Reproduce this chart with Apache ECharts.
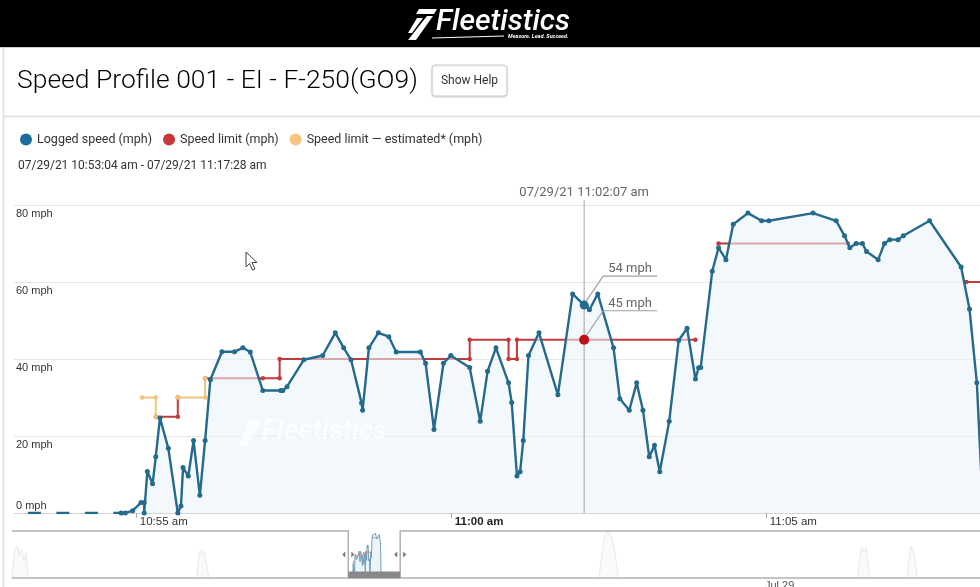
<!DOCTYPE html>
<html><head><meta charset="utf-8">
<script src="https://cdn.jsdelivr.net/npm/echarts@6/dist/echarts.min.js"></script>
<style>html,body{margin:0;padding:0;background:#fff;overflow:hidden}#c{width:980px;height:587px}</style>
</head><body><div id="c"></div>
<script>
// ---------------- data ----------------
const titleMain = 'Speed Profile';
const titleSub = '001 - EI - F-250(GO9)';
const seriesNames = ['Logged speed (mph)', 'Speed limit (mph)', 'Speed limit \u2014 estimated* (mph)'];
const rangeText = '07/29/21 10:53:04 am - 07/29/21 11:17:28 am';
const rangeStart = '10:53:04';
const rangeEnd = '11:17:28';
const viewEnd = '11:08:24';

const loggedTimes = ['10:54:46','10:54:50','10:54:57','10:55:05','10:55:08','10:55:08','10:55:11','10:55:16','10:55:19','10:55:23',
'10:55:31','10:55:40','10:55:43','10:55:45','10:55:50','10:55:55','10:56:01','10:56:06','10:56:11','10:56:22',
'10:56:34','10:56:42','10:56:49','10:57:01','10:57:18','10:57:20','10:57:24','10:57:40','10:57:58','10:58:10',
'10:58:18','10:58:25','10:58:35','10:58:36','10:58:42','10:58:51','10:59:01','10:59:08','10:59:31','10:59:36',
'10:59:44','10:59:53','11:00:00','11:00:18','11:00:28','11:00:35','11:00:43','11:00:55','11:00:58','11:01:03',
'11:01:06','11:01:09','11:01:14','11:01:24','11:01:42','11:01:56','11:02:07','11:02:09','11:02:12','11:02:20',
'11:02:35','11:02:41','11:02:50','11:02:57','11:03:03','11:03:09','11:03:14','11:03:19','11:03:28','11:03:37',
'11:03:45','11:03:53','11:03:56','11:03:58','11:04:09','11:04:15','11:04:22','11:04:29','11:04:43','11:04:56',
'11:05:03','11:05:45','11:06:07','11:06:15','11:06:20','11:06:26','11:06:32','11:06:36','11:06:47','11:06:53',
'11:06:58','11:07:06','11:07:11','11:07:36','11:08:06','11:08:14','11:08:21','11:08:27'];
const loggedSpeeds = [0,0,0.6,2.7,2.7,0,10.8,7.6,14.6,24.7,
16.8,0,1.8,11.8,9.6,18.8,4.6,18.8,34.6,41.9,
41.9,42.9,41.8,31.8,31.8,31.8,32.8,39.8,40.9,46.8,
42.9,39.8,28.6,26.7,42.9,46.8,45.8,41.8,41.8,38.9,
21.7,38.9,40.9,37.8,23.8,36.8,42.9,33.8,28.7,9.6,
10.7,18.8,40.9,46.8,30.7,56.9,54,53.8,52.8,56.9,
42.9,29.7,26.7,33.8,26.7,14.6,17.6,10.7,23.8,44.8,
48,34.8,37.7,37.8,62.8,68.9,65.8,75,77.9,75.9,
75.9,77.9,75.9,72,68.9,70,70,67.9,65.8,70,
71,71,72,75.9,63.9,53,33.8,0];

const limitTimes = ['10:55:19','10:55:40','10:55:40',null,'10:56:06','10:57:01','10:57:17','10:57:17','11:00:18','11:00:18','11:00:55','11:00:55','11:01:03','11:01:03','11:03:53',null,'11:04:15','11:06:18',null,'11:08:11','11:08:40'];
const limitValues = [25,25,30,null,35,35,35,40,40,45,45,40,40,45,45,null,70,70,null,60,60];
const estTimes = ['10:55:06','10:55:19','10:55:19',null,'10:55:40','10:56:06','10:56:06'];
const estValues = [30,30,25,null,30,30,35];

const xTickTimes = ['10:55:00','11:00:00','11:05:00'];
const xTickLabels = ['10:55 am','11:00 am','11:05 am'];
const xTickBold = [false,true,false];

const cursorTime = '11:02:07';
const cursorText = '07/29/21 11:02:07 am';
const cursorLogged = 54;
const cursorLimit = 45;

const navStart = '08:15:00';
const navEnd = '15:50:00';
const navLabel = 'Jul 29';
const navOtherTimes = ['08:15:00','08:15:40','08:16:20','08:17:30','08:18:30','08:19:30','08:20:40','08:21:40','08:22:30',null,
'09:41:50','09:42:40','09:43:30','09:44:30','09:45:30','09:46:40','09:47:30',null,
'12:50:50','12:52:00','12:53:00','12:54:00','12:55:30','12:57:00','12:58:30','13:00:00',null,
'14:52:30','14:53:30','14:54:30','14:55:30','14:56:30','14:57:30','14:58:30',null,
'15:15:50','15:16:50','15:17:40','15:18:40','15:19:40','15:20:30'];
const navOtherSpeeds = [0,25,52,55,38,50,30,45,0,null,
0,30,48,40,46,20,0,null,
0,30,62,78,80,70,40,0,null,
0,35,54,45,52,20,0,null,
0,40,56,48,25,0];

// ---------------- helpers ----------------
function T(s){ const p = s.split(':').map(Number); return new Date(2021,6,29,p[0],p[1],p[2]).getTime(); }
function pairs(times, vals){ let last = null; return times.map((t,i)=>{ if(t===null) return [last, null]; last = T(t); return [last, vals[i]]; }); }

const FONT = 'Roboto, "Liberation Sans", Arial, sans-serif';
const AXF = '"Liberation Sans", Arial, sans-serif';
const BLUE = '#246a8c', RED = '#c23a3c', ORANGE = '#f3c27c';

const loggedData = pairs(loggedTimes, loggedSpeeds);
const limitData = pairs(limitTimes, limitValues);
const estData = pairs(estTimes, estValues);
const gapData = [[T(rangeStart),0],[T(loggedTimes[0]),0]];
const navOther = pairs(navOtherTimes, navOtherSpeeds);
const xTickVals = xTickTimes.map(T);

const chart = echarts.init(document.getElementById('c'), null, {renderer:'canvas'});
chart.setOption({
  animation:false,
  backgroundColor:'#fff',
  textStyle:{fontFamily:FONT},
  legend:{left:15, top:128, icon:'circle', itemWidth:12, itemHeight:12, itemGap:11, selectedMode:false,
    textStyle:{fontFamily:FONT, fontSize:12.5, color:'#333'},
    data:[{name:seriesNames[0], itemStyle:{color:'#1d6c9f'}},{name:seriesNames[1], itemStyle:{color:'#c8383b'}},{name:seriesNames[2], itemStyle:{color:'#f6c680'}}]},
  grid:[{left:14,right:0,top:205,height:308},{left:12,right:0,top:531,height:47}],
  xAxis:[
    {type:'value', gridIndex:0, min:T(rangeStart), max:T(viewEnd), scale:true,
     axisLine:{show:true, onZero:false, lineStyle:{color:'#d5d5d5', width:1}},
     axisTick:{show:true, customValues:xTickVals, length:5, lineStyle:{color:'#aaa'}},
     axisLabel:{customValues:xTickVals, align:'left', margin:3, padding:[0,0,0,4], color:'#333', fontSize:11.5, fontFamily:AXF,
       formatter:function(v){ const i = xTickVals.indexOf(+v); if(i<0) return ''; return xTickBold[i] ? '{b|'+xTickLabels[i]+'}' : xTickLabels[i]; },
       rich:{b:{fontWeight:'bold', fontSize:11.5, fontFamily:AXF, color:'#222'}}},
     splitLine:{show:false}},
    {type:'value', gridIndex:1, min:T(navStart), max:T(navEnd), scale:true, show:false}
  ],
  yAxis:[
    {type:'value', gridIndex:0, min:0, max:80, interval:20, axisLine:{show:false}, axisTick:{show:false},
     axisLabel:{inside:true, align:'left', verticalAlign:'top', margin:2, padding:[3,0,0,0], color:'#333', fontSize:11, fontFamily:AXF,
       formatter:function(v){ return v===0 ? '' : v+' mph'; }},
     splitLine:{lineStyle:{color:'#e6e6e6', width:1}}},
    {type:'value', gridIndex:0, min:0, max:80, interval:80, position:'left', axisLine:{show:false}, axisTick:{show:false}, splitLine:{show:false},
     axisLabel:{inside:true, align:'left', verticalAlign:'bottom', margin:2, padding:[0,0,2,0], color:'#333', fontSize:11, fontFamily:AXF,
       formatter:function(v){ return v===0 ? '0 mph' : ''; }}},
    {type:'value', gridIndex:1, min:0, max:82, show:false}
  ],
  series:[
    {name:seriesNames[0], type:'line', xAxisIndex:0, yAxisIndex:0, data:loggedData, z:3,
     symbol:'circle', symbolSize:5, showSymbol:true, showAllSymbol:true,
     lineStyle:{color:BLUE, width:2.4}, itemStyle:{color:BLUE},
     areaStyle:{color:'rgba(233,243,250,0.84)'}},
    {name:'gap', type:'line', xAxisIndex:0, yAxisIndex:0, data:gapData, z:3, symbol:'none',
     lineStyle:{color:BLUE, width:2.6, type:[13,15.5], dashOffset:14.6}},
    {name:seriesNames[1], type:'line', xAxisIndex:0, yAxisIndex:0, data:limitData, z:2, connectNulls:false,
     symbol:'circle', symbolSize:4.5, showAllSymbol:true, lineStyle:{color:RED, width:2}, itemStyle:{color:RED}},
    {name:seriesNames[2], type:'line', xAxisIndex:0, yAxisIndex:0, data:estData, z:2, connectNulls:false,
     symbol:'circle', symbolSize:4.5, showAllSymbol:true, lineStyle:{color:ORANGE, width:2}, itemStyle:{color:ORANGE}},
    {name:'navOther', type:'line', xAxisIndex:1, yAxisIndex:2, data:navOther, symbol:'none', connectNulls:false,
     lineStyle:{color:'#e8e8e8', width:1}, areaStyle:{color:'rgba(244,244,244,0.6)'}},
    {name:'navTrip', type:'line', xAxisIndex:1, yAxisIndex:2, data:loggedData, symbol:'none',
     lineStyle:{color:'#6f9dba', width:1}, areaStyle:{color:'rgba(205,223,236,0.5)'}},
    {name:'navLimit', type:'line', xAxisIndex:1, yAxisIndex:2, data:limitData, symbol:'none', connectNulls:false,
     lineStyle:{color:'#c88a8a', width:1}}
  ]
});

// ---------------- decorations (positions from the chart's scales) ----------------
const P = (si, t, v) => chart.convertToPixel({seriesIndex:si}, [T(t), v]);
const g = [];
g.push({type:'rect', shape:{x:0,y:0,width:980,height:47}, style:{fill:'#000'}});
g.push({type:'polygon', shape:{points:[[419,9],[437,9],[434,14],[416,14]]}, style:{fill:'#fff'}});
g.push({type:'polygon', shape:{points:[[427,16],[433,16],[416,40],[408,40]]}, style:{fill:'#fff'}});
g.push({type:'polygon', shape:{points:[[417,18],[423,18],[412,33],[408,33]]}, style:{fill:'#fff'}});
g.push({type:'text', x:436, y:22, style:{text:'Fleetistics', fill:'#fff', font:'italic 500 30px '+FONT, textVerticalAlign:'middle'}});
g.push({type:'line', shape:{x1:432,y1:38,x2:504,y2:36}, style:{stroke:'#fff', lineWidth:1}});
g.push({type:'text', x:508, y:37, style:{text:'Measure. Lead. Succeed.', fill:'#fff', font:'italic bold 5.5px '+FONT, textVerticalAlign:'middle'}});
g.push({type:'line', shape:{x1:0,y1:47.5,x2:980,y2:47.5}, style:{stroke:'#cfcfcf', lineWidth:1}});
g.push({type:'line', shape:{x1:3.5,y1:48,x2:3.5,y2:587}, style:{stroke:'#dedede', lineWidth:1.5}});
g.push({type:'line', shape:{x1:4,y1:116.5,x2:980,y2:116.5}, style:{stroke:'#e4e4e4', lineWidth:2}});
g.push({type:'text', x:17, y:80, style:{text:'{a|'+titleMain+' }{b|'+titleSub+'}', textVerticalAlign:'middle',
  rich:{a:{fontFamily:'"Roboto Light", Roboto, sans-serif', fontWeight:300, fontSize:26.5, color:'#474747'}, b:{fontFamily:'"Roboto Light", Roboto, sans-serif', fontWeight:300, fontSize:26.5, color:'#8a8a8a'}}}});
g.push({type:'rect', shape:{x:432,y:65,width:75,height:31,r:3}, style:{fill:'#fff', stroke:'#c8c8c8', lineWidth:1, shadowBlur:2, shadowColor:'rgba(0,0,0,0.12)', shadowOffsetY:1}});
g.push({type:'text', x:469.5, y:80.5, style:{text:'Show Help', fill:'#333', font:'12px '+FONT, textAlign:'center', textVerticalAlign:'middle'}});
g.push({type:'text', x:18, y:166, style:{text:rangeText, fill:'#333', font:'12px '+FONT, textVerticalAlign:'middle'}});
g.push({type:'text', x:262, y:432, z:50, style:{text:'Fleetistics', fill:'rgba(255,255,255,0.7)', font:'italic 500 28px '+FONT, textVerticalAlign:'middle'}});
g.push({type:'polygon', z:50, shape:{points:[[249,420],[262,420],[247,446],[238,446]]}, style:{fill:'rgba(255,255,255,0.7)'}});
g.push({type:'polygon', z:100, shape:{points:[[246,252],[246,267],[249.5,263.5],[252.5,270],[255,269],[252,262.5],[257,262.5]]}, style:{fill:'#fff', stroke:'#444', lineWidth:1}});

const pTop = P(0, cursorTime, 80), pBot = P(0, cursorTime, 0);
const pL = P(0, cursorTime, cursorLogged), pS = P(2, cursorTime, cursorLimit);
g.push({type:'line', z:60, shape:{x1:pL[0],y1:pTop[1]-5,x2:pL[0],y2:pBot[1]}, style:{stroke:'#a3a3a3', lineWidth:1}});
g.push({type:'text', z:100, x:pL[0], y:pTop[1]-12, style:{text:cursorText, fill:'#666', font:'13px '+FONT, textAlign:'center', textVerticalAlign:'middle'}});
[[pL, cursorLogged, BLUE, 4.5],[pS, cursorLimit, '#c0101a', 5]].forEach(function(it){
  const p = it[0];
  g.push({type:'polyline', z:100, shape:{points:[[p[0]+2,p[1]-4],[p[0]+19,p[1]-29],[p[0]+73,p[1]-29]]}, style:{stroke:'#a0a0a0', lineWidth:1.2, fill:null}});
  g.push({type:'text', z:100, x:p[0]+24, y:p[1]-36, style:{text:it[1]+' mph', fill:'#666', font:'13px '+FONT, textVerticalAlign:'middle'}});
  g.push({type:'circle', z:100, shape:{cx:p[0], cy:p[1], r:it[3]}, style:{fill:it[2]}});
});

const nS = P(4, rangeStart, 0), nE = P(4, rangeEnd, 0), nTop = P(4, navStart, 82);
const nx0 = P(4, navStart, 0)[0], nx1 = P(4, navEnd, 0)[0];
const yT = nTop[1], yB = nS[1];
g.push({type:'polyline', z:100, shape:{points:[[nx0,yT],[nS[0],yT],[nS[0],yB],[nE[0],yB],[nE[0],yT],[nx1,yT]]}, style:{stroke:'#b0b0b0', lineWidth:1.5, fill:null}});
g.push({type:'line', z:100, shape:{x1:nx0,y1:yB,x2:nx1,y2:yB}, style:{stroke:'#b0b0b0', lineWidth:1.5}});
g.push({type:'rect', z:100, shape:{x:nS[0], y:yB-6.5, width:nE[0]-nS[0], height:6.5}, style:{fill:'#888'}});
const hy = (yT+yB)/2;
[nS[0], nE[0]].forEach(function(x){
  g.push({type:'polygon', z:100, shape:{points:[[x-3,hy-3],[x-3,hy+3],[x-6,hy]]}, style:{fill:'#777'}});
  g.push({type:'polygon', z:100, shape:{points:[[x+3,hy-3],[x+3,hy+3],[x+6,hy]]}, style:{fill:'#777'}});
});
g.push({type:'text', x:765, y:580, style:{text:navLabel, fill:'#555', font:'11px '+AXF, textVerticalAlign:'top'}});

chart.setOption({graphic:g});
</script></body></html>
